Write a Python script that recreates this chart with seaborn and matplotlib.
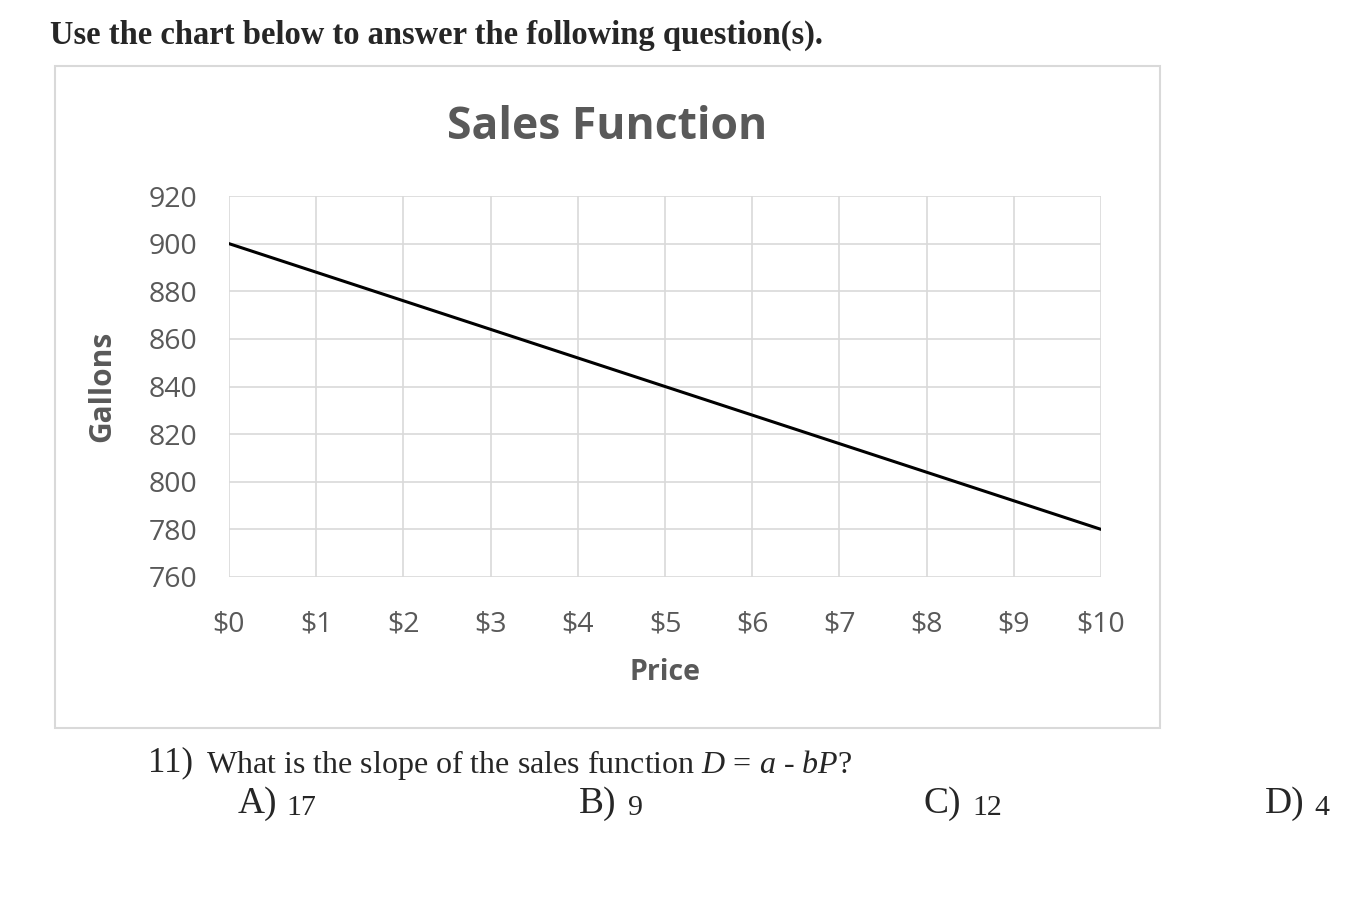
import matplotlib.pyplot as plt
import matplotlib.patches as mpatches
import seaborn as sns
import pandas as pd

# data
prices = [0, 1, 2, 3, 4, 5, 6, 7, 8, 9, 10]
gallons = [900, 888, 876, 864, 852, 840, 828, 816, 804, 792, 780]
price_labels = ["\\$0", "\\$1", "\\$2", "\\$3", "\\$4", "\\$5", "\\$6", "\\$7", "\\$8", "\\$9", "\\$10"]
gallon_ticks = [760, 780, 800, 820, 840, 860, 880, 900, 920]

sns.set_style("white")
plt.rcParams['font.family'] = ['Open Sans', 'DejaVu Sans']
plt.rcParams['mathtext.fontset'] = 'custom'
plt.rcParams['mathtext.rm'] = 'Liberation Serif'
plt.rcParams['mathtext.it'] = 'Liberation Serif:italic'

df = pd.DataFrame({"Price": prices, "Gallons": gallons})

fig = plt.figure(figsize=(13.72, 9.22), dpi=100)

# chart frame
frame = mpatches.Rectangle((0.0401, 0.2104), 0.8054, 0.718, transform=fig.transFigure,
                           fill=False, edgecolor="#d9d9d9", linewidth=1.5)
fig.patches.append(frame)

ax = fig.add_axes([0.1669, 0.3742, 0.6356, 0.4132])
sns.lineplot(data=df, x="Price", y="Gallons", ax=ax, color="black", linewidth=2.2)

ax.set_xlim(0, 10)
ax.set_ylim(760, 920)
ax.set_xticks(prices)
ax.set_xticklabels(price_labels)
ax.set_yticks(gallon_ticks)
ax.grid(True, color="#d9d9d9", linewidth=1.2)
ax.set_axisbelow(True)
for s in ax.spines.values():
    s.set_visible(False)
ax.tick_params(axis="both", length=0, labelsize=20.5, colors="#595959")
ax.tick_params(axis="y", pad=23)
ax.tick_params(axis="x", pad=24)

ax.set_xlabel("Price", fontsize=20.5, fontweight="bold", color="#595959", labelpad=14)
ax.set_ylabel("Gallons", fontsize=21.5, fontweight="bold", color="#595959", labelpad=22)

fig.text(0.4424, 0.862, "Sales Function", ha="center", va="center",
         fontsize=32, fontweight="bold", color="#595959")

# surrounding question text
serif = ['Liberation Serif', 'DejaVu Serif']
fig.text(0.0365, 0.962, "Use the chart below to answer the following question(s).",
         ha="left", va="center", fontsize=23.5, fontweight="bold", family=serif)
fig.text(0.108, 0.173, "11)", ha="left", va="center", fontsize=25, family=serif)
fig.text(0.150, 0.170, "What is the slope of the sales function $D$ = $a$ - $bP$?",
         ha="left", va="center", fontsize=23, family=serif)
options = ["A)", "B)", "C)", "D)"]
answers = ["17", "9", "12", "4"]
opt_x = [0.173, 0.422, 0.673, 0.922]
for o, a, x in zip(options, answers, opt_x):
    fig.text(x, 0.128, o, ha="left", va="center", fontsize=27, family=serif)
    fig.text(x + 0.036, 0.124, a, ha="left", va="center", fontsize=21.5, family=serif)

fig.savefig("out.png", dpi=100)
